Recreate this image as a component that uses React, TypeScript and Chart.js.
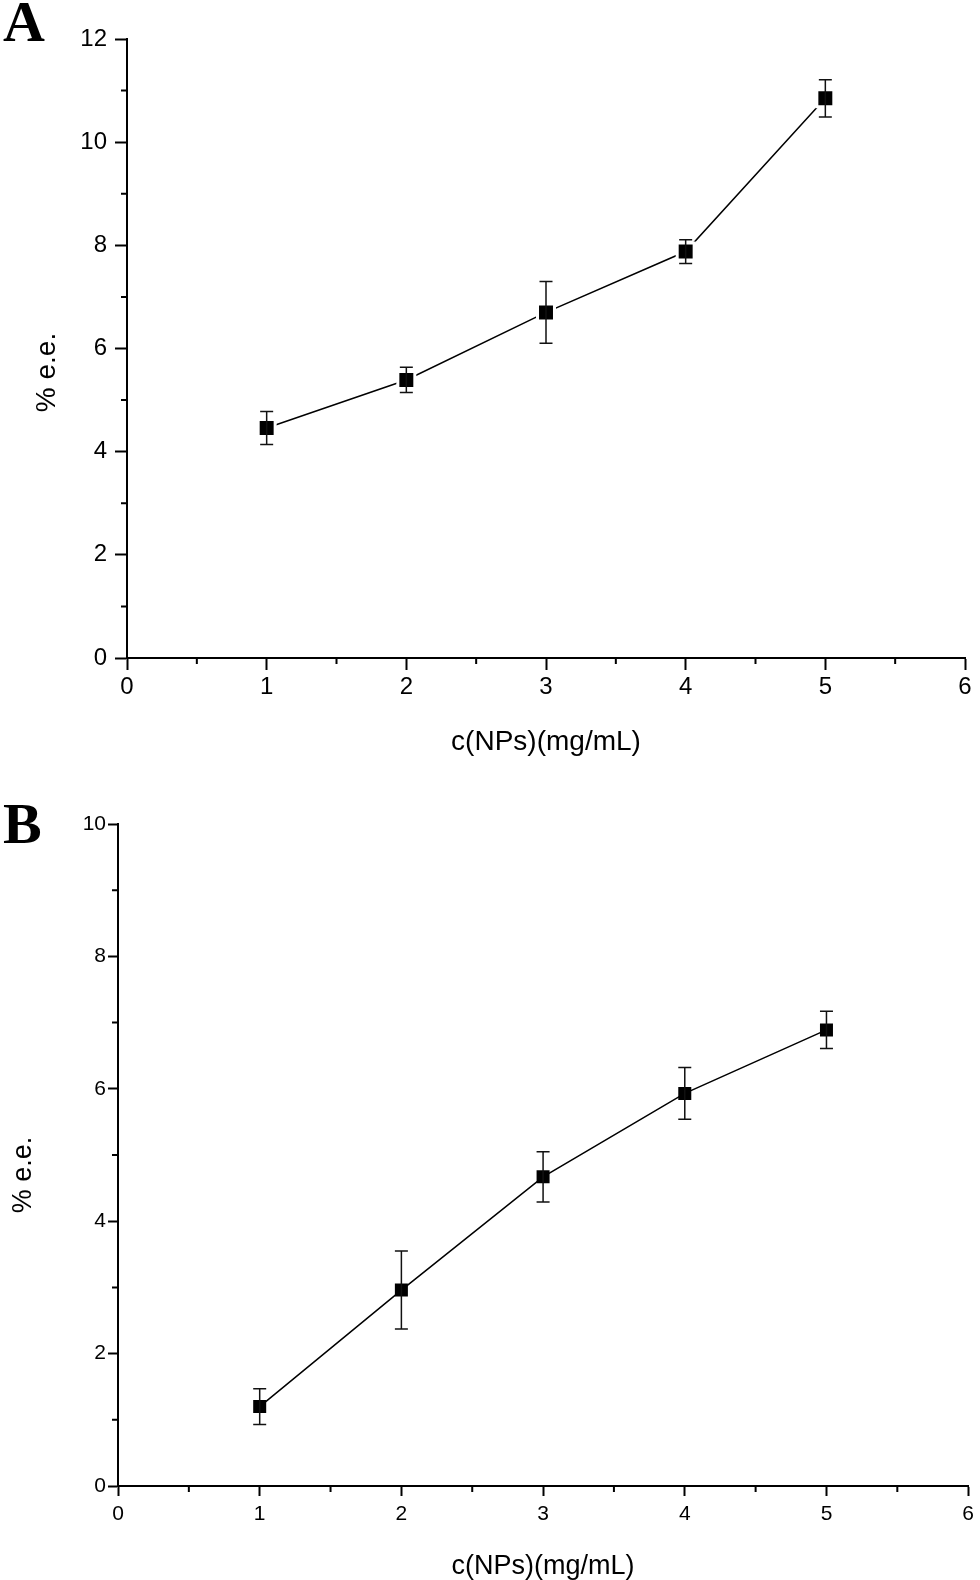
import React, { useEffect, useRef } from "react";
import { Chart, registerables } from "chart.js";

Chart.register(...registerables);

// ---- data ----
const concentrations = [1, 2, 3, 4, 5];
const eeA = [4.46, 5.39, 6.7, 7.88, 10.85];
const errA = [0.32, 0.245, 0.6, 0.23, 0.36];
const eeB = [1.2, 2.96, 4.67, 5.93, 6.89];
const errB = [0.27, 0.59, 0.38, 0.39, 0.28];
const xMinorTicks = [0.5, 1.5, 2.5, 3.5, 4.5, 5.5];
const yMinorTicksA = [1, 3, 5, 7, 9, 11];
const yMinorTicksB = [1, 3, 5, 7, 9];
const xTitle = "c(NPs)(mg/mL)";
const yTitle = "% e.e.";
const panelLetters = ["A", "B"];

const FONT = '"Liberation Sans", Arial, sans-serif';
const W = 980;

type Panel = {
  values: number[];
  errors: number[];
  yMax: number;
  yMinor: number[];
  height: number;
  left: number;
  right: number;
  top: number;
  bottom: number;
  tickFont: number;
  tickLength: number;
  yTickPad: number;
  xTickPad: number;
  titleFont: number;
  xTitlePadBottom: number;
  yTitleX: number;
  yTitleShift: number;
  pointRadius: number;
  pointBorderColor: string;
  pointBorderWidth: number;
};

function makeConfig(p: Panel): any {
  const extras = {
    id: "extras",
    afterDatasetsDraw(chart: any) {
      const { ctx, chartArea } = chart;
      const xs = chart.scales.x;
      const ys = chart.scales.y;
      ctx.save();
      ctx.strokeStyle = "#111";
      ctx.lineWidth = 1.5;
      concentrations.forEach((c, i) => {
        const px = xs.getPixelForValue(c);
        const top = ys.getPixelForValue(p.values[i] + p.errors[i]);
        const bot = ys.getPixelForValue(p.values[i] - p.errors[i]);
        ctx.beginPath();
        ctx.moveTo(px, top);
        ctx.lineTo(px, bot);
        ctx.moveTo(px - 6.5, top);
        ctx.lineTo(px + 6.5, top);
        ctx.moveTo(px - 6.5, bot);
        ctx.lineTo(px + 6.5, bot);
        ctx.stroke();
      });
      ctx.restore();
      // minor ticks
      ctx.save();
      ctx.strokeStyle = "#000";
      ctx.lineWidth = 2;
      ctx.beginPath();
      xMinorTicks.forEach((v) => {
        const px = xs.getPixelForValue(v);
        ctx.moveTo(px, chartArea.bottom);
        ctx.lineTo(px, chartArea.bottom + 6);
      });
      p.yMinor.forEach((v) => {
        const py = ys.getPixelForValue(v);
        ctx.moveTo(chartArea.left, py);
        ctx.lineTo(chartArea.left - 6, py);
      });
      ctx.stroke();
      ctx.restore();
      // y title
      ctx.save();
      ctx.translate(p.yTitleX, (chartArea.top + chartArea.bottom) / 2 + p.yTitleShift);
      ctx.rotate(-Math.PI / 2);
      ctx.font = `${p.titleFont}px ${FONT}`;
      ctx.fillStyle = "#000";
      ctx.textAlign = "center";
      ctx.textBaseline = "middle";
      ctx.fillText(yTitle, 0, 0);
      ctx.restore();
    },
  };

  return {
    type: "line",
    data: {
      datasets: [
        {
          data: concentrations.map((x, i) => ({ x, y: p.values[i] })),
          borderColor: "#000",
          borderWidth: 1.5,
          pointStyle: "rect",
          pointRadius: p.pointRadius,
          pointBackgroundColor: "#000",
          pointBorderColor: p.pointBorderColor,
          pointBorderWidth: p.pointBorderWidth,
          tension: 0,
          fill: false,
        },
      ],
    },
    options: {
      animation: false,
      responsive: false,
      events: [],
      layout: { padding: { left: 0, top: p.top, right: W - p.right, bottom: 0 } },
      plugins: { legend: { display: false }, tooltip: { enabled: false } },
      scales: {
        x: {
          type: "linear",
          min: 0,
          max: 6,
          ticks: { stepSize: 1, color: "#000", padding: p.xTickPad, font: { family: FONT, size: p.tickFont } },
          grid: { drawOnChartArea: false, drawTicks: true, tickLength: p.tickLength, tickWidth: 2, tickColor: "#000" },
          border: { display: true, color: "#000", width: 2 },
          title: {
            display: true,
            text: xTitle,
            color: "#000",
            font: { family: FONT, size: p.titleFont, lineHeight: 1 },
            padding: { top: 0, bottom: p.xTitlePadBottom },
          },
          afterFit: (s: any) => {
            s.height = p.height - p.bottom;
          },
        },
        y: {
          type: "linear",
          min: 0,
          max: p.yMax,
          ticks: { stepSize: 2, color: "#000", padding: p.yTickPad, font: { family: FONT, size: p.tickFont } },
          grid: { drawOnChartArea: false, drawTicks: true, tickLength: p.tickLength, tickWidth: 2, tickColor: "#000" },
          border: { display: true, color: "#000", width: 2 },
          afterFit: (s: any) => {
            s.width = p.left;
          },
        },
      },
    },
    plugins: [extras],
  };
}

const panelA: Panel = {
  values: eeA,
  errors: errA,
  yMax: 12,
  yMinor: yMinorTicksA,
  height: 790,
  left: 127,
  right: 973,
  top: 39,
  bottom: 658,
  tickFont: 24,
  tickLength: 12,
  yTickPad: 8,
  xTickPad: 3,
  titleFont: 28,
  xTitlePadBottom: 34,
  yTitleX: 47,
  yTitleShift: 24,
  pointRadius: 12,
  pointBorderColor: "#fff",
  pointBorderWidth: 3,
};

const panelB: Panel = {
  values: eeB,
  errors: errB,
  yMax: 10,
  yMinor: yMinorTicksB,
  height: 790,
  left: 118,
  right: 973,
  top: 34,
  bottom: 696,
  tickFont: 21,
  tickLength: 10,
  yTickPad: 2,
  xTickPad: 6,
  titleFont: 27,
  xTitlePadBottom: 0,
  yTitleX: 24,
  yTitleShift: 20,
  pointRadius: 9.2,
  pointBorderColor: "#000",
  pointBorderWidth: 0,
};

export default function App() {
  const refA = useRef<HTMLCanvasElement | null>(null);
  const refB = useRef<HTMLCanvasElement | null>(null);

  useEffect(() => {
    const cA = new Chart(refA.current as HTMLCanvasElement, makeConfig(panelA));
    const cB = new Chart(refB.current as HTMLCanvasElement, makeConfig(panelB));
    return () => {
      cA.destroy();
      cB.destroy();
    };
  }, []);

  const letterStyle: React.CSSProperties = {
    position: "absolute",
    left: 3,
    fontFamily: '"Liberation Serif", "Times New Roman", serif',
    fontWeight: "bold",
    fontSize: 58,
    lineHeight: "58px",
    color: "#000",
  };

  return (
    <div style={{ position: "absolute", left: 0, top: 0, width: W, height: 1580, background: "#fff", overflow: "hidden" }}>
      <canvas ref={refA} width={W} height={790} style={{ position: "absolute", left: 0, top: 0, width: W, height: 790 }} />
      <canvas ref={refB} width={W} height={790} style={{ position: "absolute", left: 0, top: 790, width: W, height: 790 }} />
      <div style={{ ...letterStyle, top: -7 }}>{panelLetters[0]}</div>
      <div style={{ ...letterStyle, top: 795 }}>{panelLetters[1]}</div>
    </div>
  );
}
